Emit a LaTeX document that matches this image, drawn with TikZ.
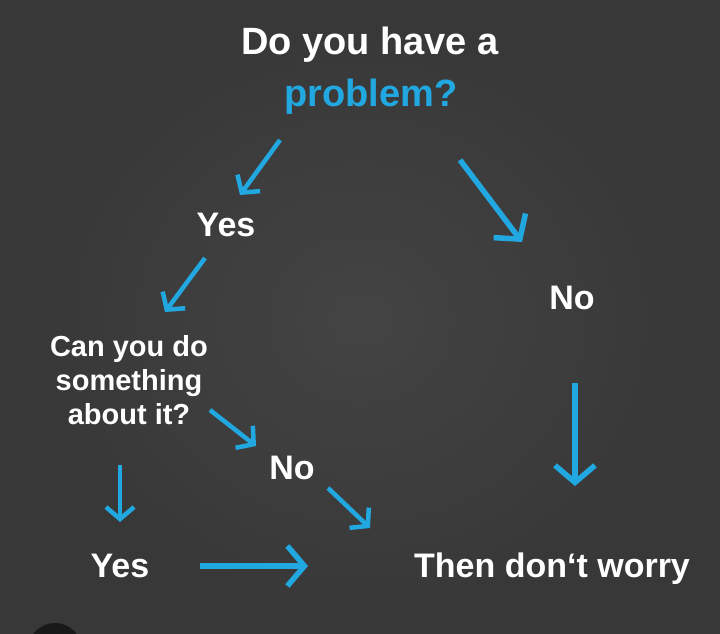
\documentclass[tikz,border=0pt]{standalone}
\usepackage{fontspec}
\setmainfont{Liberation Sans}
\usetikzlibrary{arrows.meta}
\definecolor{sky}{HTML}{22A8E0}
\definecolor{board}{HTML}{383838}
\tikzset{
  txt/.style={text=white, font=\bfseries\fontsize{34}{40}\selectfont, align=center},
  big/.style={txt, font=\bfseries\fontsize{38}{44}\selectfont},
  small/.style={txt, font=\bfseries\fontsize{29}{34}\selectfont},
  hint/.style={sky, line width=4.5pt, -{Straight Barb[length=12pt, width=28pt]}},
  bighint/.style={hint, line width=5.5pt, -{Straight Barb[length=17pt, width=40pt]}}
}
\begin{document}
\begin{tikzpicture}[x=1pt, y=-1pt]
  \useasboundingbox (0,0) rectangle (720,634);
  \fill[board] (0,0) rectangle (720,634);
  \shade[inner color=board!88!white, outer color=board, opacity=.5] (360,320) ellipse (330 and 300);
  \fill[black!90] (55,650) circle (27);
  % texts
  \node[big] (ask) at (370,45) {Do you have a};
  \node[big, text=sky] (problem) at (371,97) {problem?};
  \node[txt] (yes1) at (226,225) {Yes};
  \node[txt] (no1) at (572,298) {No};
  \node[small] (can) at (129,380) {Can you do\\something\\about it?};
  \node[txt] (no2) at (292,468) {No};
  \node[txt] (yes2) at (120,566) {Yes};
  \node[txt] (worry) at (552,569) {Then don‘t worry};
  % arrow ends
  \coordinate (a1) at (280,140); \coordinate (b1) at (240,195);
  \coordinate (a2) at (460,160); \coordinate (b2) at (522,242);
  \coordinate (a3) at (205,258); \coordinate (b3) at (165,312);
  \coordinate (a4) at (210,410); \coordinate (b4) at (256,446);
  \coordinate (a5) at (328,488); \coordinate (b5) at (370,528);
  \coordinate (a6) at (120,465); \coordinate (b6) at (120,522);
  \coordinate (a7) at (575,383); \coordinate (b7) at (575,486);
  \coordinate (a8) at (200,566); \coordinate (b8) at (308,566);
  \draw[hint] (a1) -- (b1);
  \draw[bighint] (a2) -- (b2);
  \draw[hint] (a3) -- (b3);
  \draw[hint] (a4) -- (b4);
  \draw[hint] (a5) -- (b5);
  \draw[hint] (a6) -- (b6);
  \draw[bighint] (a7) -- (b7);
  \draw[bighint] (a8) -- (b8);
\end{tikzpicture}
\end{document}
